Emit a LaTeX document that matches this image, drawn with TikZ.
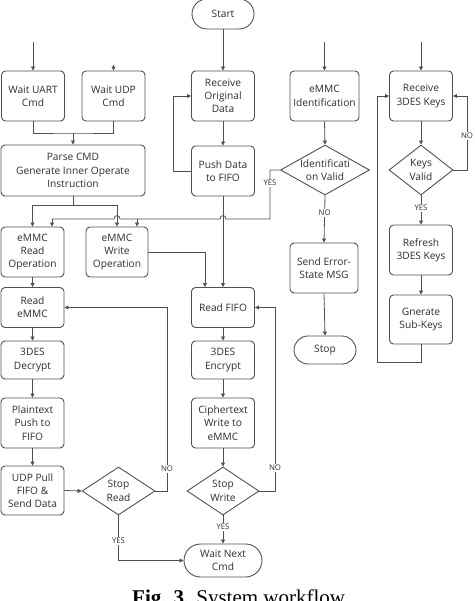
\documentclass[tikz,border=0pt]{standalone}
\usepackage{fontspec}
\setmainfont{Open Sans}
\newfontfamily\capfont{Liberation Serif}
\usetikzlibrary{arrows.meta,shapes.geometric,shapes.misc}
\definecolor{ln}{HTML}{505050}
\definecolor{txt}{HTML}{2E2E2E}
\begin{document}
\begin{tikzpicture}[x=1pt,y=-1pt,
  every node/.style={font=\fontsize{10.2}{13.3}\selectfont, text=txt},
  box/.style={draw=ln, line width=0.9pt, rounded corners=4pt, minimum width=63pt, minimum height=50pt, align=center, inner sep=1pt},
  term/.style={draw=ln, line width=0.9pt, rounded rectangle, minimum width=64pt, minimum height=30pt, align=center, inner sep=1pt},
  dec/.style={draw=ln, line width=0.9pt, diamond, inner sep=0pt},
  dtxt/.style={align=center, inner sep=0pt},
  arr/.style={draw=ln, line width=0.8pt, -{Triangle[length=4pt,width=4pt]}},
  ln2/.style={draw=ln, line width=0.8pt},
  lab/.style={fill=white, inner sep=1pt, font=\fontsize{7.8}{9}\selectfont}
]
\useasboundingbox (0,0) rectangle (474,601);

% nodes
\node[term] (start) at (223,14) {Start};
\node[box] (wuart) at (33,96) {Wait UART\\Cmd};
\node[box] (wudp) at (113.5,96) {Wait UDP\\Cmd};
\node[box] (rod) at (223,96) {Receive\\Original\\Data};
\node[box, minimum width=69pt] (emid) at (324.5,96) {eMMC\\Identification};
\node[box] (r3k) at (421,96) {Receive\\3DES Keys};
\node[box, minimum width=144pt, minimum height=51pt] (parse) at (73,170.5) {Parse CMD\\Generate Inner Operate\\Instruction};
\node[box] (push) at (223,171) {Push Data\\to FIFO};
\node[dec, minimum width=89pt, minimum height=50pt] (idv) at (325,170) {};
\node[dtxt] (idvt) at (idv) {Identificati\\on Valid};
\node[dec, minimum width=64pt, minimum height=50pt] (kv) at (421,170) {};
\node[dtxt] (kvt) at (kv) {Keys\\Valid};
\node[box, minimum width=68pt] (err) at (324,268) {Send Error-\\State MSG};
\node[term, minimum height=28pt] (stop) at (325,350) {Stop};
\node[box] (ref) at (421,250) {Refresh\\3DES Keys};
\node[box, minimum height=49pt] (gen) at (421,319.5) {Gnerate\\Sub-Keys};
\node[box] (erd) at (32.5,252) {eMMC\\Read\\Operation};
\node[box, minimum width=62pt] (ewr) at (117,252) {eMMC\\Write\\Operation};
\node[box, minimum height=40pt] (rfifo) at (223,307.5) {Read FIFO};
\node[box, minimum height=40pt] (remmc) at (32.5,307.5) {Read\\eMMC};
\node[box, minimum height=38pt] (dec3) at (32.5,360) {3DES\\Decrypt};
\node[box, minimum height=38pt] (enc3) at (223,360) {3DES\\Encrypt};
\node[box] (plain) at (32.5,423) {Plaintext\\Push to\\FIFO};
\node[box] (cipher) at (223,423) {Ciphertext\\Write to\\eMMC};
\node[box, minimum height=49pt] (udp) at (32.5,490.5) {UDP Pull\\FIFO \&\\Send Data};
\node[dec, minimum width=73pt, minimum height=48pt] (sr) at (118.5,491) {};
\node[dtxt] (srt) at (sr) {Stop\\Read};
\node[dec, minimum width=72pt, minimum height=48pt] (sw) at (223,491) {};
\node[dtxt] (swt) at (sw) {Stop\\Write};
\node[term, minimum width=80pt, minimum height=33pt] (wnc) at (223,560.5) {Wait Next\\Cmd};

% incoming stubs
\coordinate (in1) at (33,42);
\coordinate (in2) at (113.5,65);
\coordinate (in3) at (324.5,42);
\coordinate (in4) at (421,42);
\draw[arr] (in1) -- (wuart.north);
\draw[arr] (in2) -- (wudp.north);
\draw[arr] (in3) -- (emid.north);
\draw[arr] (in4) -- (r3k.north);

% centre column
\draw[arr] (start.south) -- (rod.north);
\draw[arr] (rod.south) -- (push.north);
\coordinate (lp) at (173,96);
\draw[arr] (push.west) -| (lp) -- (rod.west);
\draw[arr] (push.south) -- (rfifo.north);
\draw[arr] (rfifo.south) -- (enc3.north);
\draw[arr] (enc3.south) -- (cipher.north);
\draw[arr] (cipher.south) -- (sw.north);
\draw[arr] (sw.south) -- node[lab, pos=0.4] {YES} (wnc.north);
\coordinate (swr) at (275,491);
\draw[arr] (sw.east) -- (swr) |- (rfifo.east);
\node[lab] (no3) at (275,468) {NO};

% left
\coordinate (j1) at (73,133);
\draw[ln2] (wuart.south) |- (j1) -| (wudp.south);
\draw[arr] (j1) -- (parse.north);
\coordinate (j2) at (73,205);
\draw[ln2] (parse.south) -- (j2);
\draw[arr] (j2) -| (erd.north);
\draw[arr] (j2) -| (ewr.north);
\draw[arr] (erd.south) -- (remmc.north);
\draw[arr] (remmc.south) -- (dec3.north);
\draw[arr] (dec3.south) -- (plain.north);
\draw[arr] (plain.south) -- (udp.north);
\draw[arr] (udp.east) -- (sr.west);
\draw[arr] (sr.south) |- node[lab, pos=0.28] {YES} (wnc.west);
\coordinate (srr) at (167,491);
\draw[arr] (sr.east) -- (srr) |- (remmc.east);
\node[lab] (no2) at (167,469) {NO};
\draw[arr] (ewr.east) -| ([xshift=-18pt]rfifo.north);

% YES line from identification
\coordinate (yc) at (270,219);
\coordinate (y1) at (52,219);
\coordinate (y2) at (137,219);
\draw[ln2] (idv.west) -| (yc) -- (226,219) .. controls (226,214.5) and (220,214.5) .. (220,219)
  -- (120,219) .. controls (120,214.5) and (114,214.5) .. (114,219) -- (y1);
\draw[arr] (y1) -- (y1 |- erd.north);
\draw[arr] (y2) -- (y2 |- ewr.north);
\node[lab] (yes1) at (270,183) {YES};

% identification column
\draw[arr] (emid.south) -- (idv.north);
\draw[arr] (idv.south) -- node[lab, pos=0.37] {NO} (err.north);
\draw[arr] (err.south) -- (stop.north);

% keys column
\draw[arr] (r3k.south) -- (kv.north);
\draw[arr] (kv.south) -- node[lab, pos=0.43] {YES} (ref.north);
\draw[arr] (ref.south) -- (gen.north);
\coordinate (kr) at (467,170);
\draw[arr] (kv.east) -- (kr) |- (r3k.east);
\node[lab] (no4) at (467,136) {NO};
\coordinate (gl) at (377,362);
\draw[arr] (gen.south) |- (gl) |- (r3k.west);

% caption
\node[font=\capfont\fontsize{21}{24}\selectfont, anchor=base west, text=black, inner sep=0pt] (cap) at (132,604) {\textbf{Fig. 3.} System workflow};
\end{tikzpicture}
\end{document}
